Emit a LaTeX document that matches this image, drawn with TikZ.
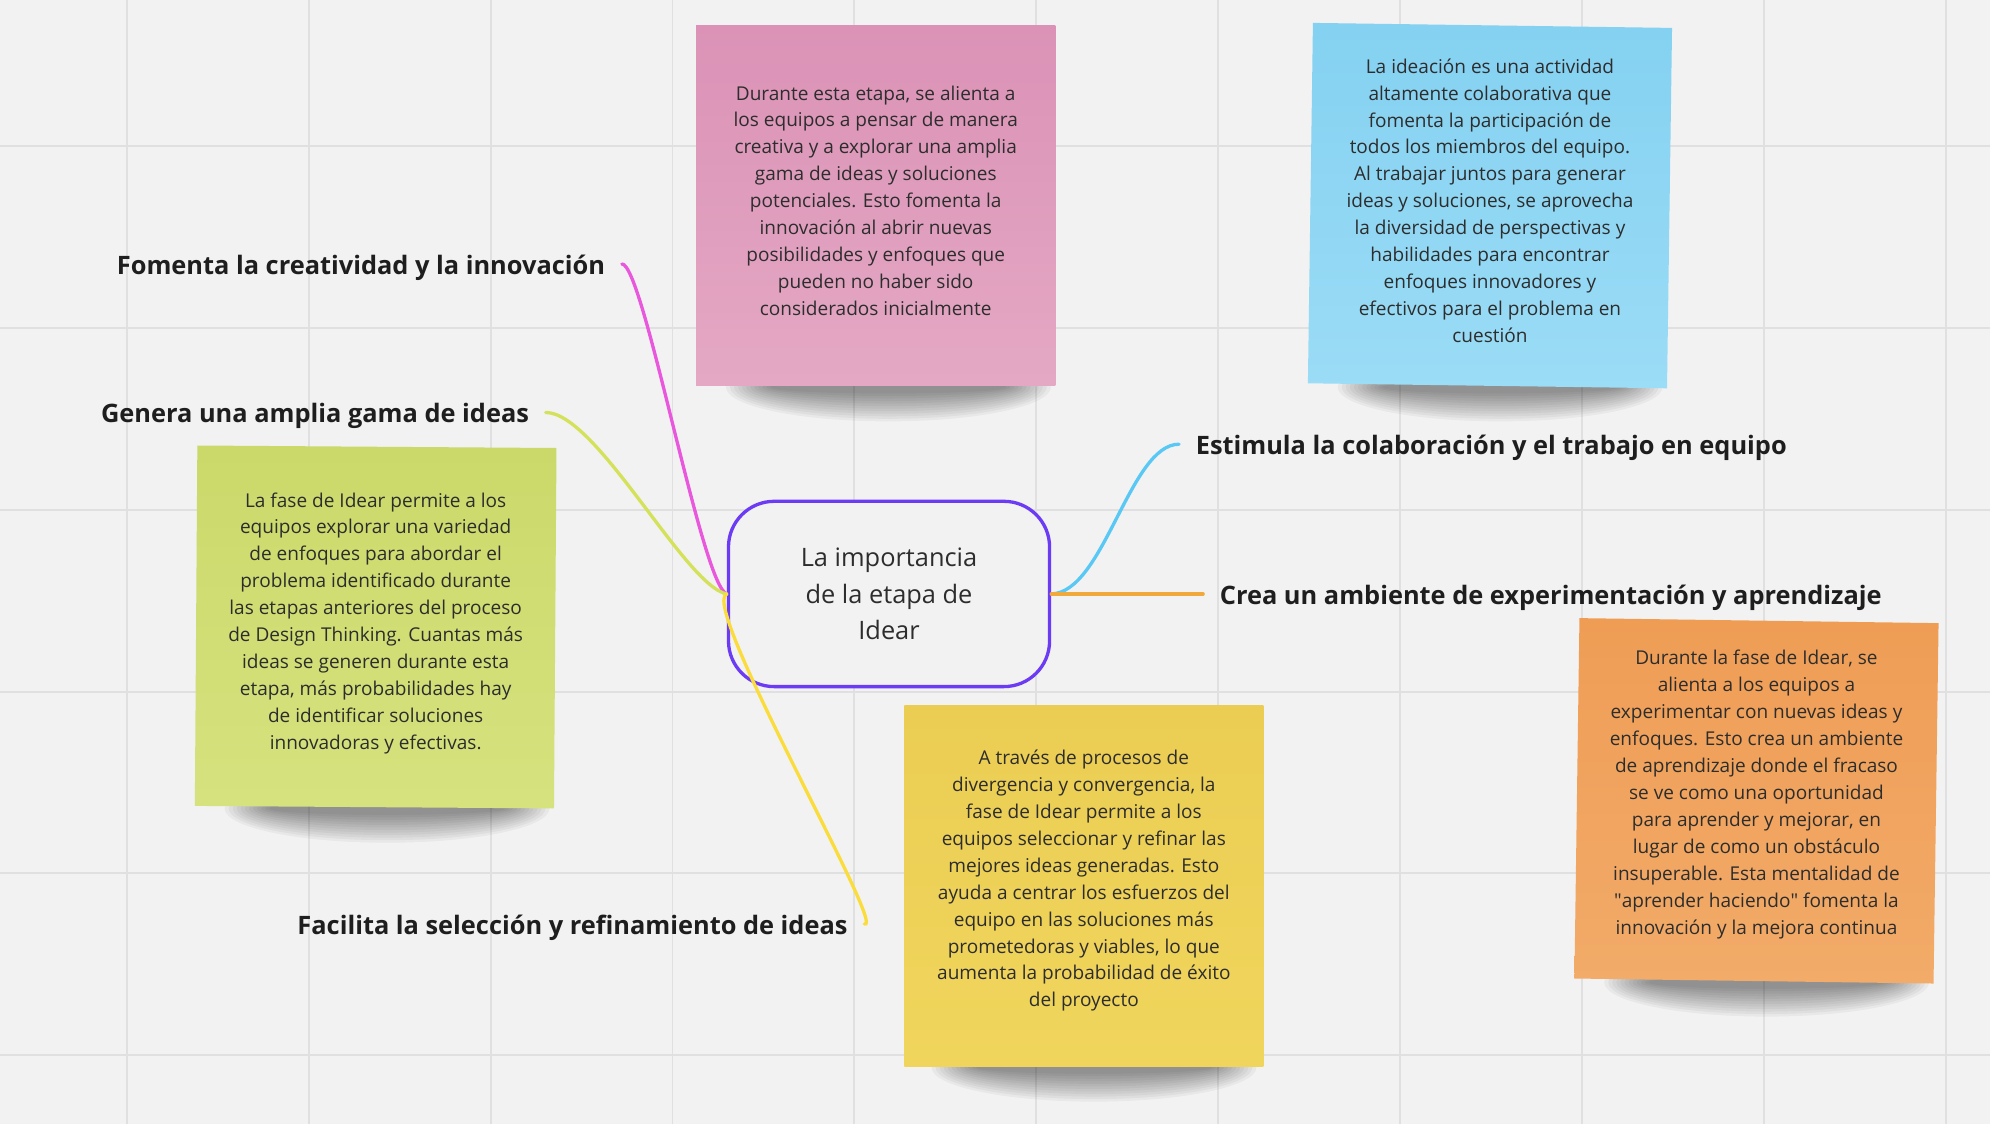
\documentclass[tikz,border=0pt]{standalone}
\usepackage{fontspec}
\setmainfont{Open Sans}
\usetikzlibrary{positioning}

\definecolor{board}{HTML}{F2F2F2}
\definecolor{gridcol}{HTML}{E0E0E0}
\definecolor{ink}{HTML}{1E1E1E}
\definecolor{noteink}{HTML}{2D2D2D}
\definecolor{ideacol}{HTML}{6B3CF4}
\definecolor{pinkline}{HTML}{E857DC}
\definecolor{limeline}{HTML}{D3E25A}
\definecolor{yellowline}{HTML}{FADD3D}
\definecolor{blueline}{HTML}{5AC8F5}
\definecolor{orangeline}{HTML}{F2A93B}
\definecolor{pinktop}{HTML}{DB92B6}
\definecolor{pinkbot}{HTML}{E4A8C4}
\definecolor{bluetop}{HTML}{84D1F1}
\definecolor{bluebot}{HTML}{9BDCF6}
\definecolor{limetop}{HTML}{CBD96A}
\definecolor{limebot}{HTML}{D6E27E}
\definecolor{yellowtop}{HTML}{EBCD53}
\definecolor{yellowbot}{HTML}{F0D55C}
\definecolor{orangetop}{HTML}{EF9D55}
\definecolor{orangebot}{HTML}{F2AB69}

\tikzset{
  gridline/.style={gridcol, line width=1.5pt},
  note/.style={minimum width=283pt, minimum height=284pt, inner sep=0pt},
  notetext/.style={align=center, text=noteink, font=\fontsize{15}{21.2}\selectfont},
  branch/.style={text=ink, inner xsep=13pt, inner ysep=0pt, text height=21pt, text depth=5pt,
    font=\bfseries\fontsize{20}{24}\selectfont},
  link/.style={line width=2.6pt, line cap=round},
}

% soft shadow under a sticky note
\newcommand{\noteshadow}[2]{%
  \foreach \s in {0,...,11}
    \fill[black, opacity=0.04] (#1,#2) ellipse [x radius={(128-3.2*\s)*1pt}, y radius={(27-2*\s)*1pt}];
}

\begin{document}
\begin{tikzpicture}[x=1pt, y=-1pt]

  \useasboundingbox (0,0) rectangle (1568,885.7);
  \fill[board] (0,0) rectangle (1568,885.7);
  \foreach \gx in {0,...,10}
    \draw[gridline] ({100+143.3*\gx},0) -- ({100+143.3*\gx},885.7);
  \foreach \gy in {0,...,5}
    \draw[gridline] (0,{115+143.3*\gy}) -- (1568,{115+143.3*\gy});

  % shadows
  \noteshadow{700}{305}
  \noteshadow{1182}{305}
  \noteshadow{305}{637}
  \noteshadow{862}{841}
  \noteshadow{1392}{774}

  % sticky notes
  \node[note, top color=pinktop, bottom color=pinkbot] (pinknote) at (690,162) {};
  \node[note, top color=bluetop, bottom color=bluebot, rotate=-0.8] (bluenote) at (1174,162) {};
  \node[note, top color=limetop, bottom color=limebot, rotate=-0.4] (limenote) at (296,494) {};
  \node[note, top color=yellowtop, bottom color=yellowbot] (yellownote) at (854,698) {};
  \node[note, top color=orangetop, bottom color=orangebot, rotate=-0.8] (orangenote) at (1384,631) {};

  \node[notetext] at ([yshift=4pt]pinknote.center) {Durante esta etapa, se alienta a\\los equipos a pensar de manera\\creativa y a explorar una amplia\\gama de ideas y soluciones\\potenciales. Esto fomenta la\\innovación al abrir nuevas\\posibilidades y enfoques que\\pueden no haber sido\\considerados inicialmente};
  \node[notetext] at ([yshift=4pt]bluenote.center) {La ideación es una actividad\\altamente colaborativa que\\fomenta la participación de\\todos los miembros del equipo.\\Al trabajar juntos para generar\\ideas y soluciones, se aprovecha\\la diversidad de perspectivas y\\habilidades para encontrar\\enfoques innovadores y\\efectivos para el problema en\\cuestión};
  \node[notetext] at ([yshift=3pt]limenote.center) {La fase de Idear permite a los\\equipos explorar una variedad\\de enfoques para abordar el\\problema identificado durante\\las etapas anteriores del proceso\\de Design Thinking. Cuantas más\\ideas se generen durante esta\\etapa, más probabilidades hay\\de identificar soluciones\\innovadoras y efectivas.};
  \node[notetext] at ([yshift=4pt]yellownote.center) {A través de procesos de\\divergencia y convergencia, la\\fase de Idear permite a los\\equipos seleccionar y refinar las\\mejores ideas generadas. Esto\\ayuda a centrar los esfuerzos del\\equipo en las soluciones más\\prometedoras y viables, lo que\\aumenta la probabilidad de éxito\\del proyecto};
  \node[notetext] at ([yshift=5pt]orangenote.center) {Durante la fase de Idear, se\\alienta a los equipos a\\experimentar con nuevas ideas y\\enfoques. Esto crea un ambiente\\de aprendizaje donde el fracaso\\se ve como una oportunidad\\para aprender y mejorar, en\\lugar de como un obstáculo\\insuperable. Esta mentalidad de\\\textquotedbl aprender haciendo\textquotedbl{} fomenta la\\innovación y la mejora continua};

  % central idea
  \node[draw=ideacol, fill=board, line width=2.6pt, rounded corners=36pt,
    minimum width=253pt, minimum height=146pt, align=center, text=noteink,
    font=\fontsize{20}{29}\selectfont] (idea) at (700.5,468) {La importancia\\de la etapa de\\Idear};

  % branch labels
  \node[branch, anchor=east] (fomenta) at (490,208) {Fomenta la creatividad y la innovación};
  \node[branch, anchor=east] (genera) at (430,325) {Genera una amplia gama de ideas};
  \node[branch, anchor=east] (facilita) at (681,728) {Facilita la selección y refinamiento de ideas};
  \node[branch, anchor=west] (estimula) at (929,350) {Estimula la colaboración y el trabajo en equipo};
  \node[branch, anchor=west] (crea) at (948,468) {Crea un ambiente de experimentación y aprendizaje};

  % connectors
  \draw[link, pinkline] (idea.west) .. controls (553,462) and (507,207) .. (fomenta.east);
  \draw[link, limeline] (idea.west) .. controls (540,462) and (470,325) .. (genera.east);
  \draw[link, yellowline] (idea.west) .. controls (550,475) and (700,735) .. (facilita.east);
  \draw[link, blueline] (idea.east) .. controls (870,467) and (890,350) .. (estimula.west);
  \draw[link, orangeline] (idea.east) -- (crea.west);

\end{tikzpicture}
\end{document}
